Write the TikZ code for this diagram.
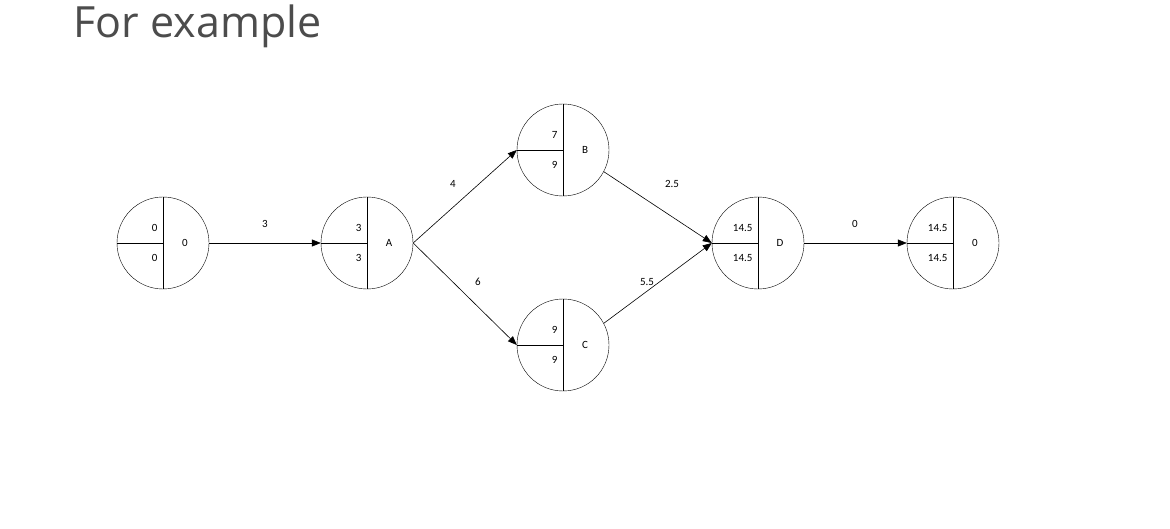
\documentclass[tikz,border=0pt]{standalone}
\usepackage{fontspec}
\setmainfont{Carlito}
\newfontfamily\titlefont{Open Sans}
\usetikzlibrary{arrows.meta}
\begin{document}
\begin{tikzpicture}[x=1pt,y=-1pt,
  ev/.style={circle,draw,minimum size=92pt,inner sep=0pt},
  num/.style={font=\fontsize{11}{12}\selectfont},
  arr/.style={draw,-{Triangle[length=9pt,width=7pt]},line width=0.6pt}]
\useasboundingbox[fill=white] (0,0) rectangle (1170,529);
\node[anchor=base west,font=\titlefont\fontsize{43}{46}\selectfont,text=black!70] (title) at (70,38) {For example};
\foreach \n/\x/\y/\t/\b/\l in {s/163/243/0/0/0, a/367/243/3/3/A, b/563/150/7/9/B, c/563/345/9/9/C, d/758/243/14.5/14.5/D, e/953/243/14.5/14.5/0}{
  \node[ev] (\n) at (\x,\y) {};
  \draw (\n.north) -- (\n.south);
  \draw (\n.west) -- (\n.center);
  \node[num,anchor=east] (\n t) at (\x-2,\y-15) {\t};
  \node[num,anchor=east] (\n b) at (\x-2,\y+15) {\b};
  \node[num] (\n l) at (\x+22,\y) {\l};
}
\draw[arr] (s.east) -- (a.west);
\draw[arr] (a.east) -- (b.west);
\draw[arr] (a.east) -- (c.west);
\draw[arr] (b.-28) -- (d.west);
\draw[arr] (c.28) -- (d.west);
\draw[arr] (d.east) -- (e.west);
\node[num] (l1) at (265,224) {3};
\node[num] (l2) at (453,184) {4};
\node[num] (l3) at (478,282) {6};
\node[num] (l4) at (672,184) {2.5};
\node[num] (l5) at (647,282) {5.5};
\node[num] (l6) at (855,224) {0};
\end{tikzpicture}
\end{document}
